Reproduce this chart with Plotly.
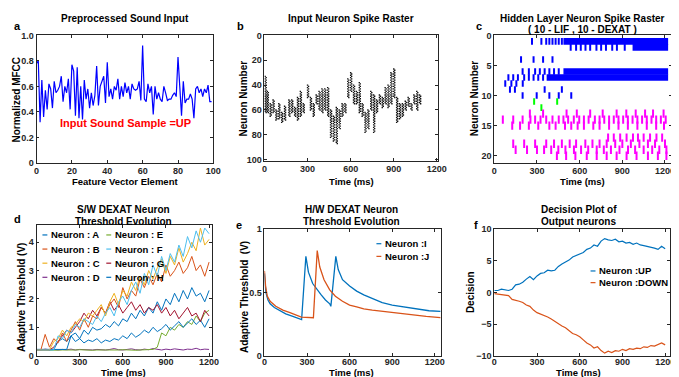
import plotly.graph_objects as go

W, H = 679, 377
FONT = "Liberation Sans, Arial, Helvetica, sans-serif"
INK = "#262626"

# ---------------- data ----------------
# (a) preprocessed MFCC feature vector
a_x = list(range(100))
a_y = [0.78, 0.80, 0.32, 0.65, 0.36, 0.57, 0.42, 0.62, 0.58, 0.43,
       0.64, 0.55, 0.57, 0.60, 0.68, 0.48, 0.60, 0.55, 0.66, 0.42,
       0.77, 0.72, 0.37, 0.75, 0.35, 0.60, 0.34, 0.65, 0.50, 0.58,
       0.43, 0.55, 0.45, 0.53, 0.76, 0.45, 0.60, 0.65, 0.68, 0.47,
       0.79, 0.52, 0.58, 0.50, 0.60, 0.57, 0.66, 0.50, 0.60, 0.52,
       0.63, 0.55, 0.60, 0.50, 0.62, 0.58, 0.57, 0.58, 0.64, 0.49,
       0.92, 0.50, 0.48, 0.62, 0.55, 0.60, 0.38, 0.60, 0.50, 0.55,
       0.50, 0.48, 0.60, 0.55, 0.49, 0.50, 0.50, 0.53, 0.55, 0.52,
       0.83, 0.60, 0.37, 0.64, 0.47, 0.50, 0.50, 0.54, 0.50, 0.35,
       0.58, 0.60, 0.55, 0.58, 0.52, 0.58, 0.55, 0.61, 0.48, 0.48]

# (b) input spike raster: time columns with active neuron span
b_t = [5, 20, 40, 60, 80, 100, 120, 140, 170, 190, 210, 230, 250, 270,
       300, 320, 340, 360, 380, 400, 420, 440, 460, 480, 500, 520, 540, 560,
       580, 600, 620, 640, 660, 680, 700, 720, 740, 760, 780, 800, 820, 840,
       860, 880, 900, 920, 940, 960, 980, 1000, 1020, 1040, 1060, 1080]
b_lo = [33, 45, 55, 52, 60, 55, 62, 57, 52, 52, 58, 50, 45, 55,
        40, 50, 55, 48, 45, 43, 43, 42, 60, 65, 58, 60, 55, 55,
        35, 30, 40, 45, 38, 55, 62, 60, 45, 48, 52, 48, 50, 42,
        40, 30, 27, 50, 55, 55, 53, 50, 55, 48, 45, 48]
b_hi = [62, 62, 65, 62, 68, 67, 70, 68, 65, 62, 65, 68, 65, 62,
        50, 60, 65, 55, 60, 62, 60, 65, 82, 85, 87, 75, 65, 62,
        50, 45, 55, 55, 62, 65, 78, 75, 60, 78, 62, 55, 58, 55,
        58, 55, 50, 70, 67, 65, 60, 57, 60, 55, 60, 55]

# (c) hidden layer spikes (neuron -> spike times) and dense bursts
c_spikes = {
    1: [265, 331, 365, 387, 409, 431, 453, 475],
    2: [537, 575, 608, 641, 674, 718, 751, 785, 829, 862, 917],
    4: [188, 276, 343, 409],
    6: [199, 243, 287, 320, 354, 387, 420, 453],
    7: [99, 133, 166, 210, 243, 276, 309, 343],
    8: [77, 120, 155, 200],
    9: [110, 145, 354, 475],
    10: [199, 298, 387, 453, 541],
    11: [280, 442],
    12: [331],
    13: [250, 343, 508, 580, 674, 762, 860, 928, 994, 1060, 1116, 1190],
    14: [60, 133, 199, 254, 287, 325, 365, 409, 453, 486, 519, 559, 597, 630,
         663, 707, 740, 773, 807, 840, 873, 906, 939, 972, 1006, 1039, 1072,
         1105, 1138, 1171, 1205],
    15: [126, 181, 243, 309, 387, 431, 497, 541, 586, 630, 696, 740, 807, 873,
         939, 1006, 1072, 1138, 1193],
    17: [800, 840, 885, 930, 975, 1010, 1050, 1095, 1140, 1180],
    18: [133, 210, 287, 365, 420, 475, 530, 575, 640, 690, 740, 790, 850, 900,
         960, 1020, 1080, 1130, 1200],
    19: [150, 230, 300, 350, 400, 450, 500, 560, 610, 660, 720, 770, 820, 880,
         940, 990, 1050, 1110, 1160, 1210],
    20: [440, 505, 570, 650, 720, 790, 860, 930, 1000, 1080, 1150, 1210],
}
c_bursts = {1: (486, 1222), 2: (972, 1222), 6: (486, 1222), 7: (368, 1222)}
c_lif = [1, 2, 3, 4, 5, 6, 7, 8, 9, 10]
c_green = [11, 12]

# (d) software DEXAT thresholds
d_t = list(range(0, 1201, 30))
d_names = ["A", "B", "C", "D", "E", "F", "G", "H"]
d_A = [0.22, 0.22, 0.22, 0.22, 0.22, 0.22, 0.22, 0.22, 0.7, 0.5,
       0.6, 0.45, 0.55, 0.5, 0.6, 0.45, 0.55, 0.5, 0.6, 0.55,
       0.7, 0.6, 0.8, 0.65, 0.75, 0.9, 0.8, 1.0, 0.85, 0.95,
       1.1, 0.9, 1.05, 1.2, 1.0, 1.15, 1.3, 1.1, 1.25, 1.0, 1.3]
d_B = [0.2, 0.2, 0.75, 0.3, 0.6, 0.45, 0.8, 0.5, 0.9, 1.2,
       0.9, 1.3, 1.0, 1.4, 1.3, 1.7, 1.5, 1.8, 2.0, 1.7,
       2.4, 2.0, 2.3, 2.1, 2.7, 2.4, 2.8, 2.5, 2.9, 2.6,
       3.2, 2.8, 3.0, 3.3, 2.9, 3.1, 3.5, 3.0, 3.2, 2.8, 3.3]
d_C = [0.2, 0.2, 0.2, 0.2, 0.5, 0.6, 0.9, 0.7, 1.0, 1.1,
       1.3, 1.2, 1.5, 1.4, 1.6, 1.8, 1.4, 1.9, 2.2, 1.8,
       2.3, 2.1, 2.6, 2.3, 2.8, 2.5, 3.0, 2.7, 3.1, 3.4,
       2.9, 3.5, 3.2, 3.8, 3.3, 3.6, 4.0, 3.7, 4.5, 3.9, 4.1]
d_D = [0.22, 0.2, 0.23, 0.21, 0.22, 0.2, 0.22, 0.21, 0.23, 0.2,
       0.22, 0.21, 0.22, 0.2, 0.22, 0.21, 0.2, 0.22, 0.25, 0.21,
       0.2, 0.22, 0.24, 0.21, 0.2, 0.23, 0.21, 0.25, 0.22, 0.2,
       0.23, 0.21, 0.24, 0.22, 0.2, 0.23, 0.22, 0.26, 0.21, 0.23, 0.22]
d_E = [0.2, 0.21, 0.2, 0.19, 0.2, 0.21, 0.2, 0.2, 0.19, 0.2,
       0.21, 0.2, 0.2, 0.19, 0.2, 0.21, 0.2, 0.2, 0.19, 0.2,
       0.21, 0.2, 0.2, 0.19, 0.2, 0.21, 0.2, 0.22,
       0.3, 0.8, 0.7, 1.0, 0.9, 1.1, 1.0, 1.2, 1.1, 1.4, 1.2, 1.5, 1.6]
d_F = [0.2, 0.2, 0.2, 0.2, 0.2, 0.7, 0.6, 0.9, 0.8, 1.1,
       1.0, 1.3, 1.2, 1.1, 1.4, 1.2, 1.5, 1.7, 1.4, 1.9,
       2.1, 1.8, 2.3, 2.6, 2.2, 2.9, 2.5, 3.2, 2.8, 3.5,
       3.0, 3.6, 3.3, 3.9, 3.5, 4.2, 3.8, 4.4, 4.0, 4.5, 4.3]
d_G = [0.2, 0.2, 0.2, 0.2, 0.3, 0.5, 0.7, 0.9, 0.8, 1.0,
       1.2, 1.5, 1.3, 1.6, 1.4, 1.7, 1.5, 1.9, 1.6, 1.8,
       1.5, 1.7, 1.9, 1.6, 1.8, 1.5, 1.7, 1.6, 1.8, 1.5,
       1.7, 1.4, 1.6, 1.3, 1.5, 1.7, 1.4, 1.5, 1.2, 1.6, 1.4]
d_H = [0.22, 0.22, 0.22, 0.22, 0.22, 0.5, 0.6, 0.5, 0.7, 0.8,
       0.6, 0.9, 0.75, 1.0, 0.9, 0.95, 1.1, 1.0, 1.2, 1.05,
       1.3, 1.2, 1.5, 1.3, 1.6, 1.4, 1.7, 1.5, 1.9, 1.6,
       2.0, 1.8, 2.2, 1.9, 2.3, 2.0, 2.4, 2.1, 2.2, 1.9, 2.3]
d_colors = ["#0072BD", "#D95319", "#EDB120", "#7E2F8E",
            "#77AC30", "#4DBEEE", "#A2142F", "#0072BD"]

# (e) hardware DEXAT thresholds
e_t_I = [0, 10, 25, 40, 70, 100, 150, 200, 250, 262, 292, 310, 340, 370, 400,
         430, 460, 468, 503, 520, 550, 600, 650, 700, 760, 830, 900, 980,
         1040, 1100, 1160, 1240]
e_I = [0.65, 0.5, 0.44, 0.41, 0.38, 0.36, 0.33, 0.31, 0.29, 0.285, 0.785, 0.66,
       0.57, 0.52, 0.48, 0.44, 0.41, 0.39, 0.785, 0.68, 0.6, 0.55, 0.51, 0.48,
       0.45, 0.42, 0.40, 0.385, 0.375, 0.365, 0.355, 0.35]
e_t_J = [0, 8, 20, 40, 80, 130, 180, 230, 260, 345, 372, 390, 420, 460, 500,
         550, 600, 650, 700, 760, 830, 900, 980, 1060, 1140, 1240]
e_J = [0.67, 0.55, 0.47, 0.43, 0.39, 0.36, 0.34, 0.32, 0.305, 0.30, 0.83, 0.7,
       0.6, 0.52, 0.47, 0.43, 0.40, 0.385, 0.37, 0.36, 0.35, 0.34, 0.33, 0.32,
       0.31, 0.30]

# (f) decision of output neurons
f_t = list(range(0, 1201, 25))
f_up = [0.3, 0.3, 0.5, 0.4, 0.3, 0.5, 1.2, 1.3, 1.6, 2.1, 2.5, 2.0, 2.6, 3.0,
        3.1, 3.5, 3.4, 3.5, 4.1, 4.5, 4.8, 5.1, 5.6, 5.8, 6.1, 6.3, 6.8, 7.0,
        7.5, 7.3, 8.1, 8.5, 8.3, 8.2, 8.4, 8.0, 8.1, 7.8, 7.9, 7.6, 7.8, 7.5,
        7.4, 7.3, 7.1, 7.0, 6.8, 7.3, 6.9]
f_down = [-0.2, -0.3, -0.3, -0.4, -0.5, -1.1, -1.2, -1.4, -1.6, -2.0, -2.2,
          -2.8, -3.2, -3.4, -3.6, -3.9, -4.2, -4.6, -5.0, -5.3, -5.6, -6.0,
          -6.5, -6.7, -7.0, -7.5, -8.0, -8.3, -8.8, -8.6, -9.2, -9.6, -9.3,
          -9.5, -9.2, -9.3, -9.0, -9.2, -8.9, -9.0, -8.8, -8.9, -8.6, -8.7,
          -8.4, -8.5, -8.2, -8.0, -8.3]

BLUE, ORANGE = "#0072BD", "#D95319"

# ---------------- helpers ----------------
def pxx(x):
    return x / W

def pxy(y):
    return 1 - y / H

fig = go.Figure()

def axis(domain, rng, tickvals, ticktext=None, anchor=None, standoff=None):
    d = dict(domain=domain, range=rng, tickvals=tickvals, showline=True,
             linecolor=INK, linewidth=0.8, mirror="ticks", ticks="inside",
             ticklen=3, tickcolor=INK, tickwidth=0.8, showgrid=False,
             zeroline=False, anchor=anchor, ticklabeloverflow="allow",
             tickfont=dict(family=FONT, size=9, color=INK, weight="bold"))
    if ticktext is not None:
        d["ticktext"] = ticktext
    if standoff is not None:
        d["ticklabelstandoff"] = standoff
    return d

boxes = {
    "a": (26, 206, 23, 154), "b": (258, 435, 23, 152), "c": (492, 673, 23, 154),
    "d": (26, 205, 218, 352), "e": (258, 438, 222, 352), "f": (492, 671, 222, 352),
}

def dom(k):
    x0, x1, y0, y1 = boxes[k]
    return [pxx(x0), pxx(x1)], [pxy(y1), pxy(y0)]

# (a)
fig.add_trace(go.Scatter(x=a_x, y=a_y, mode="lines", line=dict(color="#0000FF", width=1.2),
                         xaxis="x", yaxis="y", showlegend=False))
# (b)
bx, by = [], []
for t, lo, hi in zip(b_t, b_lo, b_hi):
    for n in range(lo, hi + 1):
        bx.append(t if (n - lo) % 2 == 0 else t + 7)
        by.append(n)
fig.add_trace(go.Scatter(x=bx, y=by, mode="markers",
                         marker=dict(color="#111111", size=1.4, symbol="square"),
                         xaxis="x2", yaxis="y2", showlegend=False))
# (c)
def ccolor(n):
    if n in c_lif:
        return "#0000FF"
    if n in c_green:
        return "#00FF00"
    return "#FF00FF"

for n, (s, e) in c_bursts.items():
    fig.add_trace(go.Scatter(x=[s, e, e, s, s], y=[n - 0.55, n - 0.55, n + 0.55, n + 0.55, n - 0.55],
                             mode="lines", fill="toself", fillcolor=ccolor(n),
                             line=dict(width=0, color=ccolor(n)),
                             xaxis="x3", yaxis="y3", showlegend=False))
for n, times in c_spikes.items():
    xs, ys = [], []
    h = 0.55 if n <= 12 else 0.7
    for t in times:
        xs += [t, t, None]
        ys += [n - h, n + h, None]
    fig.add_trace(go.Scatter(x=xs, y=ys, mode="lines", line=dict(color=ccolor(n), width=2),
                             xaxis="x3", yaxis="y3", showlegend=False))
# (d)
d_series = [d_A, d_B, d_C, d_D, d_E, d_F, d_G, d_H]
draw_order = [3, 4, 0, 7, 6, 1, 2, 5]
for i in draw_order:
    fig.add_trace(go.Scatter(x=d_t, y=d_series[i], mode="lines", name="Neuron : " + d_names[i],
                             line=dict(color=d_colors[i], width=1),
                             xaxis="x4", yaxis="y4", showlegend=False))
# (e)
fig.add_trace(go.Scatter(x=e_t_I, y=e_I, mode="lines", name="Neuron :I",
                         line=dict(color=BLUE, width=1.3), xaxis="x5", yaxis="y5", showlegend=False))
fig.add_trace(go.Scatter(x=e_t_J, y=e_J, mode="lines", name="Neuron :J",
                         line=dict(color=ORANGE, width=1.3), xaxis="x5", yaxis="y5", showlegend=False))
# (f)
fig.add_trace(go.Scatter(x=f_t, y=f_up, mode="lines", name="Neuron :UP",
                         line=dict(color=BLUE, width=1.2), xaxis="x6", yaxis="y6", showlegend=False))
fig.add_trace(go.Scatter(x=f_t, y=f_down, mode="lines", name="Neuron :DOWN",
                         line=dict(color=ORANGE, width=1.2), xaxis="x6", yaxis="y6", showlegend=False))

# axes
xa, ya = dom("a")
xb, yb = dom("b")
xc, yc = dom("c")
xd, yd = dom("d")
xe, ye = dom("e")
xf, yf = dom("f")
t300 = [0, 300, 600, 900, 1200]
fig.update_layout(
    xaxis=axis(xa, [0, 100], [0, 20, 40, 60, 80, 100], anchor="y", standoff=-1),
    yaxis=axis(ya, [0, 1], [0, 0.2, 0.4, 0.6, 0.8, 1.0], ["0", "0.2", "0.4", "0.6", "0.8", "1.0"], anchor="x"),
    xaxis2=axis(xb, [0, 1210], t300, anchor="y2", standoff=-1),
    yaxis2=axis(yb, [101, 0], [0, 20, 40, 60, 80, 100], anchor="x2"),
    xaxis3=axis(xc, [0, 1250], t300, anchor="y3", standoff=-1),
    yaxis3=axis(yc, [21.2, 0], [0, 5, 10, 15, 20], anchor="x3"),
    xaxis4=axis(xd, [0, 1223], t300, anchor="y4", standoff=-2),
    yaxis4=axis(yd, [0, 4.6], [0, 1, 2, 3, 4], anchor="x4"),
    xaxis5=axis(xe, [0, 1246], t300, anchor="y5", standoff=-2),
    yaxis5=axis(ye, [0, 1], [0, 0.5, 1], ["0", "0.5", "1"], anchor="x5"),
    xaxis6=axis(xf, [0, 1235], t300, anchor="y6", standoff=-2),
    yaxis6=axis(yf, [-10, 10], [-10, -5, 0, 5, 10], anchor="x6"),
)

ann = []
def text(s, x, y, size=9.5, color="black", xanchor="center", angle=0):
    ann.append(dict(text=s, x=pxx(x), y=pxy(y), xref="paper", yref="paper",
                    xanchor=xanchor, yanchor="middle", showarrow=False, textangle=angle,
                    borderpad=0,
                    font=dict(family=FONT, size=size, color=color, weight="bold")))

# titles
text("Preprocessed Sound Input", 116, 5.5, 10)
text("Input Neuron Spike Raster", 346, 5.5, 10)
text("Hidden Layer Neuron Spike Raster", 582, 5.5, 10)
text("( 10 - LIF , 10 - DEXAT )", 582, 16.5, 10)
text("S/W DEXAT Neuron", 115, 202, 10)
text("Threshold Evolution", 115, 214, 10)
text("H/W DEXAT Neuron", 347, 202, 10)
text("Threshold Evolution", 347, 214, 10)
text("Decision Plot of", 578, 202, 10)
text("Output neurons", 578, 214, 10)
# panel letters
for s, x, y in [("a", 2, 13), ("b", 229, 13), ("c", 472, 13),
                ("d", 2, 212), ("e", 228, 218), ("f", 470, 218)]:
    text(s, x, y, 11, xanchor="left")
# axis titles
text("Feature Vector Element", 116, 173, 9.5)
text("Time (ms)", 347, 173, 9.5)
text("Time (ms)", 582, 173, 9.5)
text("Time (ms)", 115, 369, 9.5)
text("Time (ms)", 347, 369, 9.5)
text("Time (ms)", 578, 369, 9.5)
text("Normalized MFCC", 6, 89, 10, angle=-90)
text("Neuron Number", 237, 88, 10, angle=-90)
text("Neuron Number", 472, 88, 10, angle=-90)
text("Adaptive Threshold (V)", 10, 292, 10, angle=-90)
text("Adaptive Threshold  (V)", 237, 292, 10, angle=-90)
text("Decision", 468, 287, 10, angle=-90)
# red annotation in (a)
ann.append(dict(text="Input Sound Sample =UP", x=50.5, y=0.31, xref="x", yref="y",
                showarrow=False, font=dict(family=FONT, size=11, color="#FF0000", weight="bold")))

# compact legends (short line swatches as in the original figure)
shapes = []
def leg(label, color, x_line, y):
    shapes.append(dict(type="line", xref="paper", yref="paper",
                       x0=pxx(x_line), x1=pxx(x_line + 5), y0=pxy(y), y1=pxy(y),
                       line=dict(color=color, width=1.2)))
    text(label, x_line + 8, y, 9.5, xanchor="left")

rows = [228, 242.5, 257, 271.5]
for k in range(4):
    leg("Neuron : " + d_names[k], d_colors[k], 32, rows[k])
    leg("Neuron : " + d_names[k + 4], d_colors[k + 4], 97, rows[k])
leg("Neuron :I", BLUE, 372, 237)
leg("Neuron :J", ORANGE, 372, 250)
leg("Neuron :UP", BLUE, 590, 265)
leg("Neuron :DOWN", ORANGE, 590, 277)

fig.update_layout(annotations=ann, shapes=shapes, width=W, height=H,
                  margin=dict(l=0, r=0, t=0, b=0), paper_bgcolor="white",
                  plot_bgcolor="white", showlegend=False,
                  font=dict(family=FONT, color=INK))
fig.write_html("out.html", config={"displayModeBar": False})
